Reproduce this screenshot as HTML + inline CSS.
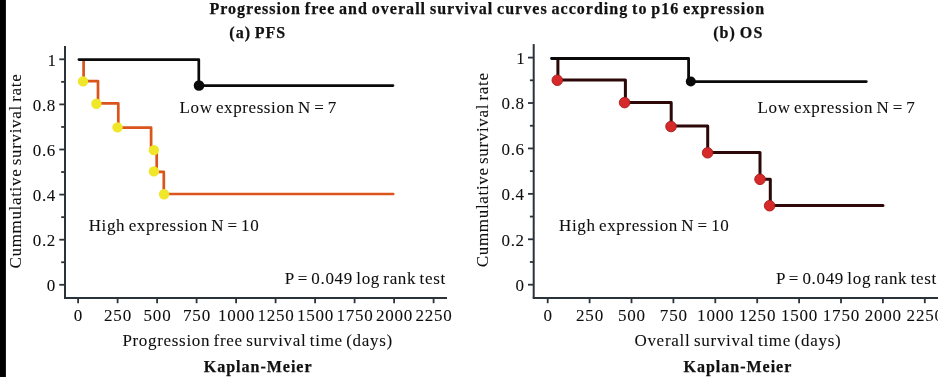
<!DOCTYPE html>
<html><head><meta charset="utf-8"><style>
html,body{margin:0;padding:0;background:#fff;width:938px;height:377px;overflow:hidden}
svg{display:block;font-family:"Liberation Serif", serif;will-change:transform}
</style></head><body>
<svg width="938" height="377" viewBox="0 0 938 377">
<rect x="0" y="0" width="5.9" height="377" fill="#000"/>
<text x="209.40" y="14.00" font-size="16" text-anchor="start" font-weight="bold" letter-spacing="1.027" stroke="#111" stroke-width="0.25" word-spacing="-1.2" fill="#111" >Progression free and overall survival curves according to p16 expression</text>
<text x="229.30" y="38.20" font-size="16" text-anchor="start" font-weight="bold" letter-spacing="1.0" stroke="#111" stroke-width="0.25" word-spacing="-1.2" fill="#111" >(a) PFS</text>
<text x="713.20" y="38.40" font-size="16" text-anchor="start" font-weight="bold" letter-spacing="1.08" stroke="#111" stroke-width="0.25" word-spacing="-1.2" fill="#111" >(b) OS</text>
<line x1="65.00" y1="46.00" x2="65.00" y2="298.00" stroke="#2a323a" stroke-width="2" stroke-linecap="butt"/>
<line x1="64.00" y1="298.00" x2="447.00" y2="298.00" stroke="#2a323a" stroke-width="2" stroke-linecap="butt"/>
<line x1="59.30" y1="284.80" x2="65.00" y2="284.80" stroke="#2a323a" stroke-width="1.8" stroke-linecap="butt"/>
<text x="55.90" y="291.10" font-size="17" text-anchor="end" font-weight="normal" letter-spacing="0.6" stroke="#0e0e0e" stroke-width="0.08" fill="#0e0e0e" >0</text>
<line x1="61.20" y1="262.25" x2="65.00" y2="262.25" stroke="#2a323a" stroke-width="1.8" stroke-linecap="butt"/>
<line x1="59.30" y1="239.70" x2="65.00" y2="239.70" stroke="#2a323a" stroke-width="1.8" stroke-linecap="butt"/>
<text x="55.90" y="246.00" font-size="17" text-anchor="end" font-weight="normal" letter-spacing="0.6" stroke="#0e0e0e" stroke-width="0.08" fill="#0e0e0e" >0.2</text>
<line x1="61.20" y1="217.15" x2="65.00" y2="217.15" stroke="#2a323a" stroke-width="1.8" stroke-linecap="butt"/>
<line x1="59.30" y1="194.60" x2="65.00" y2="194.60" stroke="#2a323a" stroke-width="1.8" stroke-linecap="butt"/>
<text x="55.90" y="200.90" font-size="17" text-anchor="end" font-weight="normal" letter-spacing="0.6" stroke="#0e0e0e" stroke-width="0.08" fill="#0e0e0e" >0.4</text>
<line x1="61.20" y1="172.05" x2="65.00" y2="172.05" stroke="#2a323a" stroke-width="1.8" stroke-linecap="butt"/>
<line x1="59.30" y1="149.50" x2="65.00" y2="149.50" stroke="#2a323a" stroke-width="1.8" stroke-linecap="butt"/>
<text x="55.90" y="155.80" font-size="17" text-anchor="end" font-weight="normal" letter-spacing="0.6" stroke="#0e0e0e" stroke-width="0.08" fill="#0e0e0e" >0.6</text>
<line x1="61.20" y1="126.95" x2="65.00" y2="126.95" stroke="#2a323a" stroke-width="1.8" stroke-linecap="butt"/>
<line x1="59.30" y1="104.40" x2="65.00" y2="104.40" stroke="#2a323a" stroke-width="1.8" stroke-linecap="butt"/>
<text x="55.90" y="110.70" font-size="17" text-anchor="end" font-weight="normal" letter-spacing="0.6" stroke="#0e0e0e" stroke-width="0.08" fill="#0e0e0e" >0.8</text>
<line x1="61.20" y1="81.85" x2="65.00" y2="81.85" stroke="#2a323a" stroke-width="1.8" stroke-linecap="butt"/>
<line x1="59.30" y1="59.30" x2="65.00" y2="59.30" stroke="#2a323a" stroke-width="1.8" stroke-linecap="butt"/>
<text x="56.70" y="65.60" font-size="17" text-anchor="end" font-weight="normal" letter-spacing="0.6" stroke="#0e0e0e" stroke-width="0.08" fill="#0e0e0e" >1</text>
<line x1="78.10" y1="298.00" x2="78.10" y2="303.20" stroke="#2a323a" stroke-width="1.8" stroke-linecap="butt"/>
<text x="78.50" y="320.70" font-size="17" text-anchor="middle" font-weight="normal" letter-spacing="0.8" stroke="#0e0e0e" stroke-width="0.08" fill="#0e0e0e" >0</text>
<line x1="117.60" y1="298.00" x2="117.60" y2="303.20" stroke="#2a323a" stroke-width="1.8" stroke-linecap="butt"/>
<text x="118.00" y="320.70" font-size="17" text-anchor="middle" font-weight="normal" letter-spacing="0.8" stroke="#0e0e0e" stroke-width="0.08" fill="#0e0e0e" >250</text>
<line x1="157.10" y1="298.00" x2="157.10" y2="303.20" stroke="#2a323a" stroke-width="1.8" stroke-linecap="butt"/>
<text x="157.50" y="320.70" font-size="17" text-anchor="middle" font-weight="normal" letter-spacing="0.8" stroke="#0e0e0e" stroke-width="0.08" fill="#0e0e0e" >500</text>
<line x1="196.60" y1="298.00" x2="196.60" y2="303.20" stroke="#2a323a" stroke-width="1.8" stroke-linecap="butt"/>
<text x="197.00" y="320.70" font-size="17" text-anchor="middle" font-weight="normal" letter-spacing="0.8" stroke="#0e0e0e" stroke-width="0.08" fill="#0e0e0e" >750</text>
<line x1="236.10" y1="298.00" x2="236.10" y2="303.20" stroke="#2a323a" stroke-width="1.8" stroke-linecap="butt"/>
<text x="236.50" y="320.70" font-size="17" text-anchor="middle" font-weight="normal" letter-spacing="0.8" stroke="#0e0e0e" stroke-width="0.08" fill="#0e0e0e" >1000</text>
<line x1="275.60" y1="298.00" x2="275.60" y2="303.20" stroke="#2a323a" stroke-width="1.8" stroke-linecap="butt"/>
<text x="276.00" y="320.70" font-size="17" text-anchor="middle" font-weight="normal" letter-spacing="0.8" stroke="#0e0e0e" stroke-width="0.08" fill="#0e0e0e" >1250</text>
<line x1="315.10" y1="298.00" x2="315.10" y2="303.20" stroke="#2a323a" stroke-width="1.8" stroke-linecap="butt"/>
<text x="315.50" y="320.70" font-size="17" text-anchor="middle" font-weight="normal" letter-spacing="0.8" stroke="#0e0e0e" stroke-width="0.08" fill="#0e0e0e" >1500</text>
<line x1="354.60" y1="298.00" x2="354.60" y2="303.20" stroke="#2a323a" stroke-width="1.8" stroke-linecap="butt"/>
<text x="355.00" y="320.70" font-size="17" text-anchor="middle" font-weight="normal" letter-spacing="0.8" stroke="#0e0e0e" stroke-width="0.08" fill="#0e0e0e" >1750</text>
<line x1="394.10" y1="298.00" x2="394.10" y2="303.20" stroke="#2a323a" stroke-width="1.8" stroke-linecap="butt"/>
<text x="394.50" y="320.70" font-size="17" text-anchor="middle" font-weight="normal" letter-spacing="0.8" stroke="#0e0e0e" stroke-width="0.08" fill="#0e0e0e" >2000</text>
<line x1="433.60" y1="298.00" x2="433.60" y2="303.20" stroke="#2a323a" stroke-width="1.8" stroke-linecap="butt"/>
<text x="434.00" y="320.70" font-size="17" text-anchor="middle" font-weight="normal" letter-spacing="0.8" stroke="#0e0e0e" stroke-width="0.08" fill="#0e0e0e" >2250</text>
<text x="0" y="0" font-size="17" letter-spacing="0.663" word-spacing="-1.5" stroke="#0e0e0e" stroke-width="0.08" fill="#0e0e0e" transform="translate(20.6,268.5) rotate(-90)">Cummulative survival rate</text>
<text x="122.40" y="346.30" font-size="17" text-anchor="start" font-weight="normal" letter-spacing="0.683" stroke="#0e0e0e" stroke-width="0.08" word-spacing="-1.5" fill="#0e0e0e" >Progression free survival time (days)</text>
<text x="203.80" y="371.50" font-size="16" text-anchor="start" font-weight="bold" letter-spacing="0.991" stroke="#111" stroke-width="0.25" fill="#111" >Kaplan-Meier</text>
<line x1="533.70" y1="44.10" x2="533.70" y2="298.00" stroke="#2a323a" stroke-width="2" stroke-linecap="butt"/>
<line x1="532.70" y1="298.00" x2="938.00" y2="298.00" stroke="#2a323a" stroke-width="2" stroke-linecap="butt"/>
<line x1="528.00" y1="284.70" x2="533.70" y2="284.70" stroke="#2a323a" stroke-width="1.8" stroke-linecap="butt"/>
<text x="524.60" y="291.00" font-size="17" text-anchor="end" font-weight="normal" letter-spacing="0.6" stroke="#0e0e0e" stroke-width="0.08" fill="#0e0e0e" >0</text>
<line x1="529.90" y1="261.99" x2="533.70" y2="261.99" stroke="#2a323a" stroke-width="1.8" stroke-linecap="butt"/>
<line x1="528.00" y1="239.28" x2="533.70" y2="239.28" stroke="#2a323a" stroke-width="1.8" stroke-linecap="butt"/>
<text x="524.60" y="245.58" font-size="17" text-anchor="end" font-weight="normal" letter-spacing="0.6" stroke="#0e0e0e" stroke-width="0.08" fill="#0e0e0e" >0.2</text>
<line x1="529.90" y1="216.57" x2="533.70" y2="216.57" stroke="#2a323a" stroke-width="1.8" stroke-linecap="butt"/>
<line x1="528.00" y1="193.86" x2="533.70" y2="193.86" stroke="#2a323a" stroke-width="1.8" stroke-linecap="butt"/>
<text x="524.60" y="200.16" font-size="17" text-anchor="end" font-weight="normal" letter-spacing="0.6" stroke="#0e0e0e" stroke-width="0.08" fill="#0e0e0e" >0.4</text>
<line x1="529.90" y1="171.15" x2="533.70" y2="171.15" stroke="#2a323a" stroke-width="1.8" stroke-linecap="butt"/>
<line x1="528.00" y1="148.44" x2="533.70" y2="148.44" stroke="#2a323a" stroke-width="1.8" stroke-linecap="butt"/>
<text x="524.60" y="154.74" font-size="17" text-anchor="end" font-weight="normal" letter-spacing="0.6" stroke="#0e0e0e" stroke-width="0.08" fill="#0e0e0e" >0.6</text>
<line x1="529.90" y1="125.73" x2="533.70" y2="125.73" stroke="#2a323a" stroke-width="1.8" stroke-linecap="butt"/>
<line x1="528.00" y1="103.02" x2="533.70" y2="103.02" stroke="#2a323a" stroke-width="1.8" stroke-linecap="butt"/>
<text x="524.60" y="109.32" font-size="17" text-anchor="end" font-weight="normal" letter-spacing="0.6" stroke="#0e0e0e" stroke-width="0.08" fill="#0e0e0e" >0.8</text>
<line x1="529.90" y1="80.31" x2="533.70" y2="80.31" stroke="#2a323a" stroke-width="1.8" stroke-linecap="butt"/>
<line x1="528.00" y1="57.60" x2="533.70" y2="57.60" stroke="#2a323a" stroke-width="1.8" stroke-linecap="butt"/>
<text x="525.40" y="63.90" font-size="17" text-anchor="end" font-weight="normal" letter-spacing="0.6" stroke="#0e0e0e" stroke-width="0.08" fill="#0e0e0e" >1</text>
<line x1="547.70" y1="298.00" x2="547.70" y2="303.20" stroke="#2a323a" stroke-width="1.8" stroke-linecap="butt"/>
<text x="548.10" y="320.70" font-size="17" text-anchor="middle" font-weight="normal" letter-spacing="0.8" stroke="#0e0e0e" stroke-width="0.08" fill="#0e0e0e" >0</text>
<line x1="589.60" y1="298.00" x2="589.60" y2="303.20" stroke="#2a323a" stroke-width="1.8" stroke-linecap="butt"/>
<text x="590.00" y="320.70" font-size="17" text-anchor="middle" font-weight="normal" letter-spacing="0.8" stroke="#0e0e0e" stroke-width="0.08" fill="#0e0e0e" >250</text>
<line x1="631.50" y1="298.00" x2="631.50" y2="303.20" stroke="#2a323a" stroke-width="1.8" stroke-linecap="butt"/>
<text x="631.90" y="320.70" font-size="17" text-anchor="middle" font-weight="normal" letter-spacing="0.8" stroke="#0e0e0e" stroke-width="0.08" fill="#0e0e0e" >500</text>
<line x1="673.40" y1="298.00" x2="673.40" y2="303.20" stroke="#2a323a" stroke-width="1.8" stroke-linecap="butt"/>
<text x="673.80" y="320.70" font-size="17" text-anchor="middle" font-weight="normal" letter-spacing="0.8" stroke="#0e0e0e" stroke-width="0.08" fill="#0e0e0e" >750</text>
<line x1="715.30" y1="298.00" x2="715.30" y2="303.20" stroke="#2a323a" stroke-width="1.8" stroke-linecap="butt"/>
<text x="715.70" y="320.70" font-size="17" text-anchor="middle" font-weight="normal" letter-spacing="0.8" stroke="#0e0e0e" stroke-width="0.08" fill="#0e0e0e" >1000</text>
<line x1="757.20" y1="298.00" x2="757.20" y2="303.20" stroke="#2a323a" stroke-width="1.8" stroke-linecap="butt"/>
<text x="757.60" y="320.70" font-size="17" text-anchor="middle" font-weight="normal" letter-spacing="0.8" stroke="#0e0e0e" stroke-width="0.08" fill="#0e0e0e" >1250</text>
<line x1="799.10" y1="298.00" x2="799.10" y2="303.20" stroke="#2a323a" stroke-width="1.8" stroke-linecap="butt"/>
<text x="799.50" y="320.70" font-size="17" text-anchor="middle" font-weight="normal" letter-spacing="0.8" stroke="#0e0e0e" stroke-width="0.08" fill="#0e0e0e" >1500</text>
<line x1="841.00" y1="298.00" x2="841.00" y2="303.20" stroke="#2a323a" stroke-width="1.8" stroke-linecap="butt"/>
<text x="841.40" y="320.70" font-size="17" text-anchor="middle" font-weight="normal" letter-spacing="0.8" stroke="#0e0e0e" stroke-width="0.08" fill="#0e0e0e" >1750</text>
<line x1="882.90" y1="298.00" x2="882.90" y2="303.20" stroke="#2a323a" stroke-width="1.8" stroke-linecap="butt"/>
<text x="883.30" y="320.70" font-size="17" text-anchor="middle" font-weight="normal" letter-spacing="0.8" stroke="#0e0e0e" stroke-width="0.08" fill="#0e0e0e" >2000</text>
<line x1="924.80" y1="298.00" x2="924.80" y2="303.20" stroke="#2a323a" stroke-width="1.8" stroke-linecap="butt"/>
<text x="925.20" y="320.70" font-size="17" text-anchor="middle" font-weight="normal" letter-spacing="0.8" stroke="#0e0e0e" stroke-width="0.08" fill="#0e0e0e" >2250</text>
<text x="0" y="0" font-size="17" letter-spacing="0.663" word-spacing="-1.5" stroke="#0e0e0e" stroke-width="0.08" fill="#0e0e0e" transform="translate(488,267.2) rotate(-90)">Cummulative survival rate</text>
<text x="634.40" y="346.30" font-size="17" text-anchor="start" font-weight="normal" letter-spacing="0.726" stroke="#0e0e0e" stroke-width="0.08" word-spacing="-1.5" fill="#0e0e0e" >Overall survival time (days)</text>
<text x="683.50" y="371.50" font-size="16" text-anchor="start" font-weight="bold" letter-spacing="0.991" stroke="#111" stroke-width="0.25" fill="#111" >Kaplan-Meier</text>
<text x="179.60" y="112.90" font-size="17" text-anchor="start" font-weight="normal" letter-spacing="0.6" stroke="#0e0e0e" stroke-width="0.08" word-spacing="-1.5" fill="#0e0e0e" >Low expression N = 7</text>
<text x="88.70" y="230.90" font-size="17" text-anchor="start" font-weight="normal" letter-spacing="0.643" stroke="#0e0e0e" stroke-width="0.08" word-spacing="-1.5" fill="#0e0e0e" >High expression N = 10</text>
<text x="284.80" y="283.70" font-size="17" text-anchor="start" font-weight="normal" letter-spacing="0.655" stroke="#0e0e0e" stroke-width="0.08" word-spacing="-1.5" fill="#0e0e0e" >P = 0.049 log rank test</text>
<path d="M83.6 60.6 V81.1 H98 V103.4 H118.3 V127.6 H151.1 V149.9 H156.7 V171.9 H163.8 V194.0 H393.2" fill="none" stroke="#da541c" stroke-width="2.7" stroke-linecap="round" stroke-linejoin="round"/>
<circle cx="83" cy="81.4" r="5.2" fill="#f0e62a"/>
<circle cx="96.4" cy="103.7" r="5.2" fill="#f0e62a"/>
<circle cx="117.5" cy="127.4" r="5.2" fill="#f0e62a"/>
<circle cx="153.9" cy="150.1" r="5.2" fill="#f0e62a"/>
<circle cx="153.9" cy="171.4" r="5.2" fill="#f0e62a"/>
<circle cx="164.1" cy="194.2" r="5.2" fill="#f0e62a"/>
<path d="M78.9 59.6 H198.8 V85.6 H393" fill="none" stroke="#0a0a0a" stroke-width="2.7" stroke-linecap="round" stroke-linejoin="round"/>
<circle cx="199" cy="85.5" r="5.3" fill="#0a0a0a"/>
<text x="757.60" y="112.80" font-size="17" text-anchor="start" font-weight="normal" letter-spacing="0.632" stroke="#0e0e0e" stroke-width="0.08" word-spacing="-1.5" fill="#0e0e0e" >Low expression N = 7</text>
<text x="559.10" y="230.90" font-size="17" text-anchor="start" font-weight="normal" letter-spacing="0.624" stroke="#0e0e0e" stroke-width="0.08" word-spacing="-1.5" fill="#0e0e0e" >High expression N = 10</text>
<text x="775.90" y="283.60" font-size="17" text-anchor="start" font-weight="normal" letter-spacing="0.655" stroke="#0e0e0e" stroke-width="0.08" word-spacing="-1.5" fill="#0e0e0e" >P = 0.049 log rank test</text>
<path d="M557.9 58.6 V80 H625.4 V102.4 H671.2 V126 H707.7 V152.6 H760 V179.2 H770.3 V205.6 H883" fill="none" stroke="#2c0808" stroke-width="3" stroke-linecap="round" stroke-linejoin="round"/>
<circle cx="557.3" cy="80.2" r="5.3" fill="#d62a2a" stroke="#a81c1c" stroke-width="0.9"/>
<circle cx="624.6" cy="102.6" r="5.3" fill="#d62a2a" stroke="#a81c1c" stroke-width="0.9"/>
<circle cx="671" cy="126.5" r="5.3" fill="#d62a2a" stroke="#a81c1c" stroke-width="0.9"/>
<circle cx="707.6" cy="152.8" r="5.3" fill="#d62a2a" stroke="#a81c1c" stroke-width="0.9"/>
<circle cx="760" cy="179.3" r="5.3" fill="#d62a2a" stroke="#a81c1c" stroke-width="0.9"/>
<circle cx="769.6" cy="205.7" r="5.3" fill="#d62a2a" stroke="#a81c1c" stroke-width="0.9"/>
<path d="M551.5 58.5 H688.6 V81.6 H866.3" fill="none" stroke="#0a0a0a" stroke-width="2.8" stroke-linecap="round" stroke-linejoin="round"/>
<circle cx="690.8" cy="81.5" r="5" fill="#0a0a0a"/>
</svg>
</body></html>
